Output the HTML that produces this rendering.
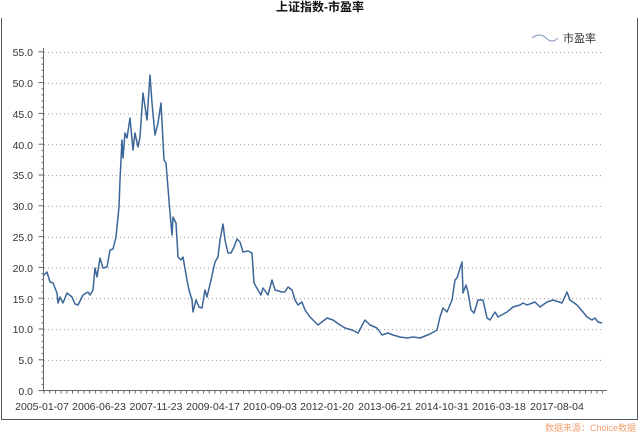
<!DOCTYPE html>
<html><head><meta charset="utf-8"><style>
html,body{margin:0;padding:0;background:#fff;width:640px;height:433px;overflow:hidden}
svg{display:block;font-family:"Liberation Sans","Noto Sans CJK SC",sans-serif}
</style></head><body>
<svg width="640" height="433" viewBox="0 0 640 433">
<path d="M1.5 18 V419.5 H637.5 V18" fill="none" stroke="#555" stroke-width="1"/>
<text x="320" y="11" font-size="12" font-weight="bold" text-anchor="middle" fill="#111">上证指数-市盈率</text>
<path d="M532 38 q8 -6 14 0 t12 0" fill="none" stroke="#8fa3c4" stroke-width="1.2"/>
<text x="563" y="42" font-size="11" fill="#333">市盈率</text>
<g stroke="#999" stroke-dasharray="1,3" stroke-width="1">
<line x1="44" x2="602" y1="52.5" y2="52.5"/><line x1="44" x2="602" y1="83.3" y2="83.3"/>
<line x1="44" x2="602" y1="114" y2="114"/><line x1="44" x2="602" y1="144.8" y2="144.8"/>
<line x1="44" x2="602" y1="175.6" y2="175.6"/><line x1="44" x2="602" y1="206.4" y2="206.4"/>
<line x1="44" x2="602" y1="237.2" y2="237.2"/><line x1="44" x2="602" y1="268" y2="268"/>
<line x1="44" x2="602" y1="298.8" y2="298.8"/><line x1="44" x2="602" y1="329.6" y2="329.6"/>
<line x1="44" x2="602" y1="360.4" y2="360.4"/>
</g>
<g font-size="10.5" fill="#333" text-anchor="end">
<text x="33" y="56">55.0</text><text x="33" y="87">50.0</text><text x="33" y="118">45.0</text>
<text x="33" y="149">40.0</text><text x="33" y="179">35.0</text><text x="33" y="210">30.0</text>
<text x="33" y="241">25.0</text><text x="33" y="272">20.0</text><text x="33" y="303">15.0</text>
<text x="33" y="333">10.0</text><text x="33" y="364">5.0</text><text x="33" y="395">0.0</text>
</g>
<g stroke="#666" stroke-width="1">
<line x1="43.5" y1="48" x2="43.5" y2="391"/>
<line x1="43" y1="390.5" x2="607" y2="390.5"/>
</g>
<g id="yt" stroke="#666"></g>
<g id="xt" stroke="#666"></g>
<g font-size="10.5" fill="#333" text-anchor="middle">
<text x="42" y="410">2005-01-07</text><text x="99" y="410">2006-06-23</text><text x="156" y="410">2007-11-23</text>
<text x="213" y="410">2009-04-17</text><text x="270" y="410">2010-09-03</text><text x="327" y="410">2012-01-20</text>
<text x="385" y="410">2013-06-21</text><text x="442" y="410">2014-10-31</text><text x="499" y="410">2016-03-18</text>
<text x="557" y="410">2017-08-04</text>
</g>
<polyline fill="none" stroke="#3b6699" stroke-width="1.5" stroke-linejoin="round" points="
43,276 47,272 50,282 53,283 57,293 58,303 60,297 63,303 67,293 72,297 75,304 78,305 83,295 88,292 90,295 93,290 95,268 97,277 100,258 103,268 107,267 110,250 113,249 116,237 117,227 119,207 120,180 122,140 123,158 125,133 127,138 130,118 133,150 135,133 138,147 140,137 143,93 147,120 150,75 152,103 155,135 158,123 161,103 164,160 166,163 170,213 172,235 173,217 176,223 178,257 181,260 183,257 187,280 189,290 192,300 193,312 196,300 199,307 202,308 205,290 207,297 211,280 215,262 218,257 220,240 223,224 225,240 228,253 231,253 234,247 237,239 240,242 243,252 248,251 252,253 254,283 258,290 261,295 263,288 268,295 272,280 275,290 282,292 285,292 288,287 292,290 295,300 298,305 302,302 305,310 310,317 313,320 318,325 327,318 333,320 340,325 345,328 352,330 358,333 365,320 370,325 377,328 382,335 388,333 393,335 400,337 407,338 413,337 420,338 425,336 430,334 437,330 440,317 443,308 447,312 452,300 455,280 457,278 462,262 463,293 466,285 468,292 471,310 474,313 478,300 483,300 487,318 490,320 495,312 498,317 507,312 513,307 520,305 523,303 527,305 535,302 540,307 547,302 553,300 562,303 567,292 570,300 577,305 583,312 587,317 592,320 595,318 598,322 602,323"/>
<text x="636" y="431" font-size="9" fill="#f0a070" text-anchor="end">数据来源：Choice数据</text>
<script>
var yt=document.getElementById('yt'),xt=document.getElementById('xt'),ns='http://www.w3.org/2000/svg';
for(var i=0;i<=55;i++){var y=390.6-6.16*i;var l=document.createElementNS(ns,'line');var L=(i%5==0)?5:2;
l.setAttribute('x1',43.5-L);l.setAttribute('x2',43.5);l.setAttribute('y1',y);l.setAttribute('y2',y);yt.appendChild(l);}
for(var x=44;x<=606;x+=5.7){var l=document.createElementNS(ns,'line');l.setAttribute('x1',x);l.setAttribute('x2',x);
l.setAttribute('y1',390.5);l.setAttribute('y2',393.5);xt.appendChild(l);}
</script>
</svg>
</body></html>
